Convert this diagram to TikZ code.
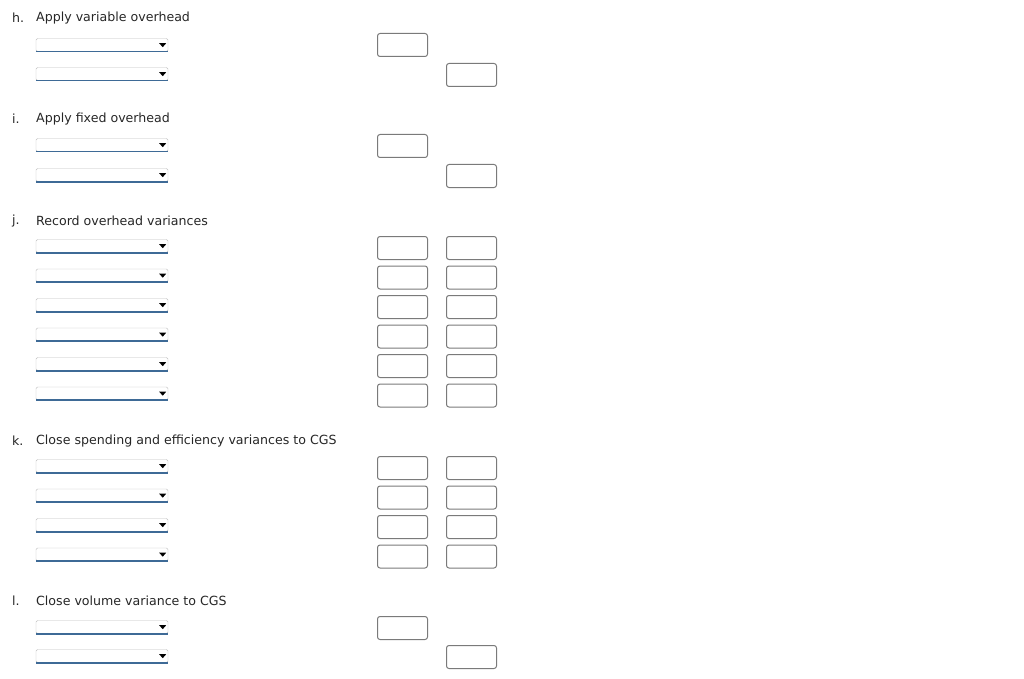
\documentclass[tikz,border=0pt]{standalone}
\usepackage{fontspec}
\setmainfont{DejaVu Sans}
\definecolor{ddblue}{HTML}{3E6A96}
\definecolor{bx}{HTML}{7A7A7A}
\begin{document}
\begin{tikzpicture}[x=1pt,y=-1pt,
  lbl/.style={anchor=west,inner sep=0,font=\fontsize{12.6}{15}\selectfont,text=black!85},
  ddbox/.style={draw=black!25,fill=white,rounded corners=1.5pt,minimum width=132pt,minimum height=13pt,inner sep=0},
  inbox/.style={draw=bx,line width=1pt,rounded corners=2.5pt,fill=white,minimum width=50pt,minimum height=23pt,inner sep=0}]
\useasboundingbox (0,0) rectangle (1024,679);
\newcommand{\dd}[2]{%
  \node[ddbox] (#1) at (102,#2) {};
  \draw[ddblue,line width=1.6pt] (#1.south west) -- (#1.south east);
  \fill[black] ([xshift=-9pt,yshift=1.8pt]#1.east) -- ++(7pt,0pt) -- ++(-3.5pt,-4pt) -- cycle;}
\newcommand{\bxa}[2]{\node[inbox] (#1) at (402.5,#2) {};}
\newcommand{\bxb}[2]{\node[inbox] (#1) at (471.5,#2) {};}
% h
\node[lbl] (hl) at (12,18) {h.}; \node[lbl] (ht) at (36,18) {Apply variable overhead};
\dd{hd1}{45}\dd{hd2}{74}\bxa{hb1}{45}\bxb{hb2}{75}
% i
\node[lbl] (il) at (12,119) {i.}; \node[lbl] (it) at (36,119) {Apply fixed overhead};
\dd{id1}{145}\dd{id2}{175}\bxa{ib1}{146}\bxb{ib2}{176}
% j
\node[lbl] (jl) at (12,221) {j.}; \node[lbl] (jt) at (36,221) {Record overhead variances};
\foreach \y [count=\i] in {246,275.5,305,334.5,364,393.5}{
  \dd{jd\i}{\y}\bxa{jba\i}{\y+2}\bxb{jbb\i}{\y+2}}
% k
\node[lbl] (kl) at (12,441) {k.}; \node[lbl] (kt) at (36,441) {Close spending and efficiency variances to CGS};
\foreach \y [count=\i] in {466,495.5,525,554.5}{
  \dd{kd\i}{\y}\bxa{kba\i}{\y+2}\bxb{kbb\i}{\y+2}}
% l
\node[lbl] (ll) at (12,601) {l.}; \node[lbl] (lt) at (36,601) {Close volume variance to CGS};
\dd{ld1}{627}\dd{ld2}{656}\bxa{lb1}{628}\bxb{lb2}{657}
\end{tikzpicture}
\end{document}
